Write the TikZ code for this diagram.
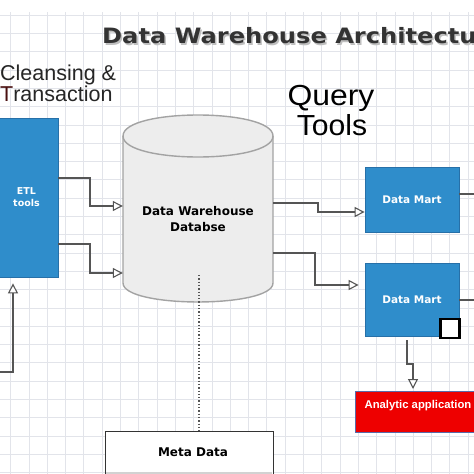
\documentclass[tikz,border=0pt]{standalone}
\usepackage{fontspec}
\setmainfont{Liberation Sans}
\newfontfamily\dvs{DejaVu Sans}
\usetikzlibrary{arrows.meta}
\definecolor{martblue}{HTML}{2F8DCB}
\definecolor{martedge}{HTML}{2770A8}
\definecolor{anared}{HTML}{EE0000}
\definecolor{anaedge}{HTML}{5A6AA8}
\definecolor{cylfill}{HTML}{EDEDED}
\definecolor{cyledge}{HTML}{A3A3A3}
\definecolor{linegray}{HTML}{555555}
\definecolor{gridgray}{HTML}{E2E4EA}
\definecolor{titlegray}{HTML}{333333}
\definecolor{darkT}{HTML}{4A1010}
\tikzset{
  gridline/.style={draw=gridgray, line width=0.6pt},
  bluebox/.style={rectangle, fill=martblue, draw=martedge, line width=0.8pt, inner sep=0pt,
     text=white, align=center, font=\dvs\bfseries\fontsize{10.5}{13}\selectfont},
  redbox/.style={rectangle, fill=anared, draw=anaedge, line width=0.8pt, inner sep=0pt},
  conn/.style={draw=linegray, line width=1.1pt, -{Triangle[length=10pt, width=10pt, fill=white]}},
  plainline/.style={draw=linegray, line width=1.1pt},
  boldtxt/.style={font=\dvs\bfseries\fontsize{12}{16}\selectfont, align=center},
  titletxt/.style={anchor=base west, inner sep=0, font=\dvs\bfseries\fontsize{23}{26}\selectfont}
}
\begin{document}
\begin{tikzpicture}[x=1pt,y=-1pt]
\useasboundingbox (0,0) rectangle (474,474);
\fill[white] (0,0) rectangle (474,474);
% grid
\foreach \i in {0,...,25} \draw[gridline] ({10.5+18.3*\i},12) -- ({10.5+18.3*\i},474);
\foreach \i in {0,...,25} \draw[gridline] (0,{15+18.3*\i}) -- (474,{15+18.3*\i});

% title (with drop shadow)
\node[titletxt, text=gray!50] (titleshadow) at (103.5,45.8) {\scalebox{1.05}[0.92]{Data Warehouse Architecture}};
\node[titletxt, text=titlegray] (title) at (102,43.8) {\scalebox{1.05}[0.92]{Data Warehouse Architecture}};

% side labels
\node[anchor=base west, inner sep=0, text=black!85, font=\fontsize{21.5}{22}\selectfont] (cl1) at (0,80) {Cleansing \&};
\node[anchor=base west, inner sep=0, text=black!85, font=\fontsize{21.5}{22}\selectfont] (cl2) at (0,101.5) {\textcolor{darkT}{T}ransaction};
\node[anchor=base, inner sep=0, text=black, font=\fontsize{29}{30}\selectfont] (q1) at (331,105) {\scalebox{1.1}[1]{Query}};
\node[anchor=base, inner sep=0, text=black, font=\fontsize{29}{30}\selectfont] (q2) at (332,135.5) {\scalebox{1.04}[1]{Tools}};

% ETL
\node[bluebox, minimum width=63pt, minimum height=159pt, font=\dvs\bfseries\fontsize{9.5}{12}\selectfont] (etl) at (26.5,197.5) {ETL\\tools};

% cylinder
\path[fill=cylfill, draw=cyledge, line width=1.4pt] (123,136) -- (123,283) .. controls (123,308.3) and (273,308.3) .. (273,283) -- (273,136) .. controls (273,108) and (123,108) .. (123,136) -- cycle;
\draw[cyledge, line width=1.4pt] (123,136) .. controls (123,164) and (273,164) .. (273,136);
\node[minimum width=150pt, minimum height=147pt, inner sep=0] (cyl) at (198,209.5) {};
\node[boldtxt] (dwt) at (198,219) {Data Warehouse\\Databse};

% data marts
\node[bluebox, minimum width=94pt, minimum height=65pt] (dm1) at (412,199.5) {Data Mart};
\node[bluebox, minimum width=94pt, minimum height=73pt] (dm2) at (412,299.5) {Data Mart};
\node[draw=black, line width=2.4pt, fill=white, minimum size=19pt, inner sep=0] (sq) at (450,328.5) {};

% analytic application
\node[redbox, minimum width=127pt, minimum height=41pt, anchor=north west] (ana) at (355,391) {};
\node[text=white, inner sep=0, font=\bfseries\fontsize{11.3}{13}\selectfont] (anat) at (418,405.5) {Analytic application};

% meta data
\node[draw=black!80, fill=white, line width=1.3pt, minimum width=168pt, minimum height=60pt, anchor=north west, inner sep=0] (meta) at (105,431) {};
\fill[gray!35] (105.7,471.5) rectangle (272.3,474);
\node[boldtxt] (metat) at (193,452.5) {Meta Data};

% connectors ETL -> cylinder
\draw[conn] (etl.east |- 0,178) -| (90,206) -- (cyl.west |- 0,206);
\draw[conn] (etl.east |- 0,244) -| (90,273) -- (cyl.west |- 0,273);
% cylinder -> data marts
\draw[conn] (cyl.east |- 0,203) -| (318,212) -- (dm1.west |- 0,212);
\draw[conn, shorten >=6pt] (cyl.east |- 0,253) -| (315,285) -- (dm2.west |- 0,285);
% data mart -> analytic
\draw[conn, shorten >=2pt] ([yshift=-4pt]dm2.south -| 407,0) -- (407,364) -- (413,364) -- (ana.north -| 413,0);
% bottom-left into ETL
\coordinate (bl) at (-2,372);
\draw[conn, shorten >=6pt] (bl) -- (13,372) -- (etl.south -| 13,0);
% outgoing lines
\coordinate (r1) at (480,194);
\coordinate (r2) at (480,300);
\draw[plainline] (dm1.east |- r1) -- (r1);
\draw[plainline] (dm2.east |- r2) -- (r2);
% dotted link
\coordinate (dotS) at (199,275);
\draw[linegray, line width=1.3pt, dotted] (dotS) -- (meta.north -| dotS);
\end{tikzpicture}
\end{document}
